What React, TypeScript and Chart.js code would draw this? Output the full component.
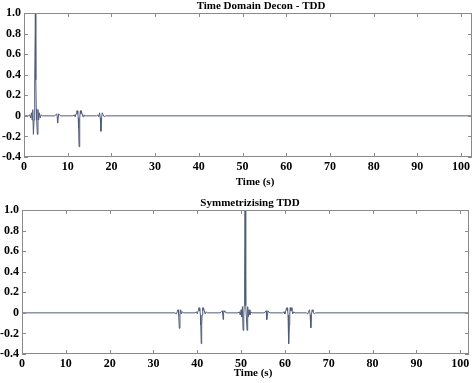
import React, { useEffect, useRef } from "react";
import { Chart, registerables } from "chart.js";

Chart.register(...registerables);

// ---- tick values and labels ----
const xTicks = [0, 10, 20, 30, 40, 50, 60, 70, 80, 90, 100];
const xTickLabels = ["0", "10", "20", "30", "40", "50", "60", "70", "80", "90", "100"];
const yTicks = [-0.4, -0.2, 0, 0.2, 0.4, 0.6, 0.8, 1.0];
const yTickLabels = ["-0.4", "-0.2", "0", "0.2", "0.4", "0.6", "0.8", "1.0"];
const xAxisTitle = "Time (s)";

// ---- Time Domain Decon - TDD (time s, amplitude) ----
const tddTime = [
  0, 1.0, 1.3, 1.5, 1.7, 1.85, 2.0, 2.15, 2.3, 2.4, 2.5, 2.6, 2.7, 2.8, 2.9, 3.05, 3.2, 3.35, 3.5, 3.7, 3.9, 4.2,
  7.0, 7.3, 7.5, 7.6, 7.7, 7.8, 7.9, 8.1, 8.4,
  11.2, 11.5, 11.7, 11.9, 12.1, 12.2, 12.3, 12.4, 12.5, 12.6, 12.7, 12.8, 12.9, 13.0, 13.1, 13.3, 13.5, 13.7, 14.0,
  16.6, 16.9, 17.1, 17.3, 17.45, 17.6, 17.75, 17.9, 18.1, 18.4, 18.7,
  103,
];
const tddAmp = [
  0, 0, 0.01, -0.02, 0.03, -0.04, 0.06, -0.18, -0.04, 0.07, 0.35, 1.0, 0.35, 0.07, -0.04, -0.18, 0.06, -0.04, 0.03, -0.02, 0.01, 0,
  0, 0.01, 0.02, -0.01, -0.07, -0.01, 0.02, 0.01, 0,
  0, 0.01, -0.01, 0.02, 0.05, 0.02, 0.05, -0.02, -0.12, -0.3, -0.12, -0.02, 0.05, 0.02, 0.05, 0.02, -0.01, 0.01, 0,
  0, 0.01, -0.01, 0.03, -0.02, -0.15, -0.02, 0.03, 0.01, -0.01, 0,
  0,
];

// ---- Symmetrizising TDD (time s, amplitude) ----
const symTime = [
  0,
  34.9, 35.2, 35.4, 35.6, 35.75, 35.9, 36.05, 36.2, 36.4, 36.6, 36.9,
  39.5, 39.8, 40.0, 40.2, 40.4, 40.5, 40.6, 40.7, 40.8, 40.9, 41.0, 41.1, 41.2, 41.3, 41.4, 41.6, 41.8, 42.0, 42.3,
  45.2, 45.5, 45.7, 45.8, 45.9, 46.0, 46.1, 46.3, 46.6,
  49.3, 49.6, 49.8, 50.0, 50.15, 50.3, 50.45, 50.6, 50.7, 50.8, 50.9, 51.0, 51.1, 51.2, 51.35, 51.5, 51.65, 51.8, 52.0, 52.2, 52.5,
  55.2, 55.5, 55.7, 55.8, 55.9, 56.0, 56.1, 56.3, 56.6,
  59.5, 59.8, 60.0, 60.2, 60.4, 60.5, 60.6, 60.7, 60.8, 60.9, 61.0, 61.1, 61.2, 61.3, 61.4, 61.6, 61.8, 62.0, 62.3,
  64.9, 65.2, 65.4, 65.6, 65.75, 65.9, 66.05, 66.2, 66.4, 66.7, 67.0,
  103,
];
const symAmp = [
  0,
  0, -0.01, 0.01, 0.03, -0.02, -0.15, -0.02, 0.03, -0.01, 0.01, 0,
  0, 0.01, -0.01, 0.02, 0.05, 0.02, 0.05, -0.02, -0.12, -0.3, -0.12, -0.02, 0.05, 0.02, 0.05, 0.02, -0.01, 0.01, 0,
  0, 0.01, 0.02, -0.01, -0.065, -0.01, 0.02, 0.01, 0,
  0, 0.01, -0.02, 0.03, -0.04, 0.06, -0.17, -0.04, 0.07, 0.35, 1.0, 0.35, 0.07, -0.04, -0.17, 0.06, -0.04, 0.03, -0.02, 0.01, 0,
  0, 0.01, 0.02, -0.01, -0.065, -0.01, 0.02, 0.01, 0,
  0, 0.01, -0.01, 0.02, 0.05, 0.02, 0.05, -0.02, -0.12, -0.3, -0.12, -0.02, 0.05, 0.02, 0.05, 0.02, -0.01, 0.01, 0,
  0, -0.01, 0.01, 0.03, -0.02, -0.145, -0.02, 0.03, 0.01, -0.01, 0,
  0,
];

const FAMILY = "'Liberation Serif', 'Times New Roman', serif";
const LINE_COLOR = "#505c78";
const BOX_COLOR = "#8a8a8a";

const boxTicks = {
  id: "boxTicks",
  afterDatasetsDraw(chart: any) {
    const { ctx, chartArea: a, scales } = chart;
    const x = scales.x;
    const y = scales.y;
    ctx.save();
    ctx.strokeStyle = BOX_COLOR;
    ctx.lineWidth = 1;
    ctx.strokeRect(Math.round(a.left) + 0.5, Math.round(a.top) + 0.5, Math.round(a.width) - 1, Math.round(a.height) - 1);
    ctx.beginPath();
    const len = 4;
    xTicks.forEach((v) => {
      const px = Math.round(x.getPixelForValue(v)) + 0.5;
      ctx.moveTo(px, a.bottom);
      ctx.lineTo(px, a.bottom - len);
      ctx.moveTo(px, a.top);
      ctx.lineTo(px, a.top + len);
    });
    yTicks.forEach((v) => {
      const py = Math.round(y.getPixelForValue(v)) + 0.5;
      ctx.moveTo(a.left, py);
      ctx.lineTo(a.left + len, py);
      ctx.moveTo(a.right, py);
      ctx.lineTo(a.right - len, py);
    });
    ctx.stroke();
    ctx.restore();
  },
};

// Draws the panel title and the x-axis title at MATLAB-like positions.
const panelText = {
  id: "panelText",
  afterDraw(chart: any, _args: any, opts: any) {
    const { ctx } = chart;
    ctx.save();
    ctx.fillStyle = "#000";
    ctx.font = `bold 11px ${FAMILY}`;
    ctx.textAlign = "center";
    ctx.textBaseline = "middle";
    ctx.fillText(opts.title, opts.titleX, opts.titleY);
    ctx.fillText(opts.xTitle, opts.xTitleX, opts.xTitleY);
    ctx.restore();
  },
};

type PanelProps = {
  time: number[];
  amp: number[];
  title: string;
  width: number;
  height: number;
  top: number;
  padTop: number;
  padRight: number;
  yWidth: number;
  xHeight: number;
  xMax: number;
  titleX: number;
  titleY: number;
  xTitleX: number;
  xTitleY: number;
};

function Panel(p: PanelProps) {
  const ref = useRef<HTMLCanvasElement | null>(null);
  useEffect(() => {
    if (!ref.current) return;
    const tickFont = { family: FAMILY, weight: "bold" as const, size: 12 };
    const chart = new Chart(ref.current, {
      type: "line",
      data: {
        datasets: [
          {
            data: p.time.map((t, i) => ({ x: t, y: p.amp[i] })),
            borderColor: LINE_COLOR,
            borderWidth: 1,
            pointRadius: 0,
            tension: 0,
            fill: false,
          },
        ],
      },
      options: {
        animation: false,
        responsive: false,
        maintainAspectRatio: false,
        layout: { padding: { left: 0, right: p.padRight, top: p.padTop, bottom: 0 } },
        plugins: {
          legend: { display: false },
          tooltip: { enabled: false },
          title: { display: false },
          panelText: {
            title: p.title,
            titleX: p.titleX,
            titleY: p.titleY,
            xTitle: xAxisTitle,
            xTitleX: p.xTitleX,
            xTitleY: p.xTitleY,
          },
        },
        scales: {
          x: {
            type: "linear",
            min: 0,
            max: p.xMax,
            afterBuildTicks: (s: any) => {
              s.ticks = xTicks.map((v) => ({ value: v }));
            },
            afterFit: (s: any) => {
              s.height = p.xHeight;
            },
            grid: { display: false, drawTicks: false },
            border: { display: false },
            ticks: {
              padding: 3,
              color: "#000",
              font: tickFont,
              maxRotation: 0,
              autoSkip: false,
              callback: (_v: any, i: number) => xTickLabels[i],
            },
          },
          y: {
            type: "linear",
            min: -0.4,
            max: 1.0,
            afterBuildTicks: (s: any) => {
              s.ticks = yTicks.map((v) => ({ value: v }));
            },
            afterFit: (s: any) => {
              s.width = p.yWidth;
            },
            grid: { display: false, drawTicks: false },
            border: { display: false },
            ticks: {
              padding: 3,
              color: "#000",
              font: tickFont,
              autoSkip: false,
              callback: (_v: any, i: number) => yTickLabels[i],
            },
          },
        },
      },
      plugins: [boxTicks, panelText],
    } as any);
    return () => chart.destroy();
  }, []);
  return (
    <div style={{ position: "absolute", left: 0, top: p.top, width: p.width, height: p.height }}>
      <canvas ref={ref} width={p.width} height={p.height} style={{ display: "block" }} />
    </div>
  );
}

export default function App() {
  return (
    <div style={{ position: "fixed", left: 0, top: 0, width: 474, height: 383, background: "#fff" }}>
      <Panel
        time={tddTime}
        amp={tddAmp}
        title="Time Domain Decon - TDD"
        width={474}
        height={190}
        top={0}
        padTop={13}
        padRight={2}
        yWidth={24}
        xHeight={33}
        xMax={102.5}
        titleX={261}
        titleY={6}
        xTitleX={255}
        xTitleY={182}
      />
      <Panel
        time={symTime}
        amp={symAmp}
        title="Symmetrizising TDD"
        width={474}
        height={193}
        top={190}
        padTop={20}
        padRight={5}
        yWidth={22}
        xHeight={29}
        xMax={102}
        titleX={250}
        titleY={13}
        xTitleX={253}
        xTitleY={183}
      />
    </div>
  );
}
